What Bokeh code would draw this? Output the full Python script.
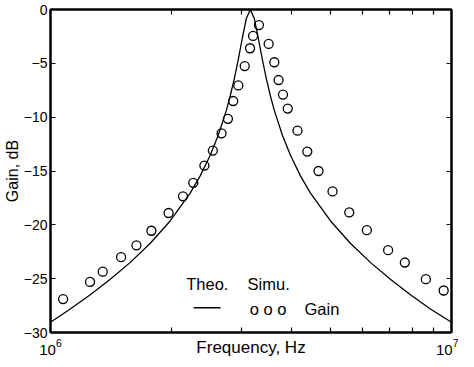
from bokeh.plotting import figure
from bokeh.models import (Range1d, FixedTicker, SingleIntervalTicker, LogAxis,
                          LinearAxis, Label, LogTickFormatter)
from bokeh.embed import file_html
from bokeh.resources import INLINE

# ---- data ----
theo_freq = [1.0e6, 1.118e6, 1.254e6, 1.407e6, 1.579e6, 1.771e6, 1.988e6, 2.230e6,
             2.362e6, 2.502e6, 2.620e6, 2.744e6, 2.807e6, 2.873e6, 2.940e6, 3.008e6,
             3.078e6, 3.15e6, 3.223e6, 3.298e6, 3.375e6, 3.454e6, 3.534e6, 3.617e6,
             3.787e6, 3.966e6, 4.201e6, 4.450e6, 4.993e6, 5.602e6, 6.286e6, 7.053e6,
             7.913e6, 8.879e6, 1.0e7]
theo_gain = [-29.05, -27.84, -26.51, -25.08, -23.51, -21.73, -19.64, -17.05,
             -15.45, -13.54, -11.68, -9.39, -8.01, -6.44, -4.64, -2.67,
             -0.84, 0.0, -0.84, -2.67, -4.64, -6.44, -8.01, -9.39,
             -11.68, -13.54, -15.45, -17.05, -19.64, -21.73, -23.51, -25.08,
             -26.51, -27.84, -29.05]

simu_freq = [1.075e6, 1.255e6, 1.35e6, 1.50e6, 1.638e6, 1.785e6, 1.97e6, 2.14e6,
             2.27e6, 2.42e6, 2.54e6, 2.67e6, 2.77e6, 2.855e6, 2.94e6, 3.05e6,
             3.145e6, 3.20e6, 3.31e6, 3.50e6, 3.615e6, 3.705e6, 3.80e6, 3.905e6,
             4.13e6, 4.37e6, 4.66e6, 5.05e6, 5.56e6, 6.15e6, 6.95e6, 7.65e6,
             8.63e6, 9.56e6]
simu_gain = [-26.9, -25.3, -24.35, -23.0, -21.9, -20.55, -18.9, -17.35,
             -16.1, -14.5, -13.1, -11.5, -10.15, -8.5, -7.05, -5.25,
             -3.6, -2.45, -1.45, -3.2, -4.9, -6.55, -7.9, -9.2,
             -11.25, -13.2, -15.0, -16.9, -18.85, -20.5, -22.35, -23.5,
             -25.05, -26.1]

x_major_ticks = [1e6, 1e7]
x_minor_ticks = [2e6, 3e6, 4e6, 5e6, 6e6, 7e6, 8e6, 9e6]

x_title = "Frequency, Hz"
y_title = "Gain, dB"
legend_head_theo = "Theo."
legend_head_simu = "Simu."
legend_marks = "o o o"
legend_name = "Gain"

# legend placement (data coordinates)
legend_pos = {
    "theo": (2.18e6, -25.5),
    "simu": (3.10e6, -25.5),
    "marks": (3.14e6, -27.8),
    "name": (4.30e6, -27.8),
    "line_x": [2.275e6, 2.655e6],
    "line_y": [-27.7, -27.7],
}

FONT = "Liberation Sans"

p = figure(width=458, height=359, x_axis_type="log",
           x_range=Range1d(1e6, 1e7), y_range=Range1d(-30, 0),
           output_backend="svg", toolbar_location=None,
           min_border_left=43, min_border_right=7, min_border_top=9,
           min_border_bottom=26)
p.xgrid.visible = False
p.ygrid.visible = False
p.outline_line_color = "black"
p.outline_line_width = 2
p.background_fill_color = "white"
p.border_fill_color = "white"

xticker = FixedTicker(ticks=x_major_ticks, minor_ticks=x_minor_ticks)
yticker = SingleIntervalTicker(interval=5, num_minor_ticks=0)

def style_axis(ax, labels=True):
    ax.axis_line_color = "black"
    ax.axis_line_width = 2
    ax.major_tick_in = 5
    ax.major_tick_out = 0
    ax.minor_tick_in = 5
    ax.minor_tick_out = 0
    ax.major_tick_line_width = 1.2
    ax.minor_tick_line_width = 1.2
    ax.major_label_text_font = FONT
    ax.major_label_text_color = "black"
    ax.axis_label_text_font = FONT
    ax.axis_label_text_font_style = "normal"
    ax.axis_label_text_color = "black"
    if not labels:
        ax.major_label_text_font_size = "1px"
        ax.major_label_text_color = None
        ax.major_label_standoff = 0
        ax.axis_label_standoff = 0

xb = p.xaxis[0]
xb.ticker = xticker
xb.formatter = LogTickFormatter()
style_axis(xb)
xb.major_label_text_font_size = "15px"
xb.major_label_standoff = 6
xb.axis_label = x_title
xb.axis_label_text_font_size = "17px"
xb.axis_label_standoff = -20

yl = p.yaxis[0]
yl.ticker = yticker
style_axis(yl)
yl.major_label_text_font_size = "14px"
yl.major_label_standoff = 3
yl.axis_label = y_title
yl.axis_label_text_font_size = "16px"
yl.axis_label_standoff = 0

xt = LogAxis(ticker=xticker)
style_axis(xt, labels=False)
p.add_layout(xt, "above")

yr = LinearAxis(ticker=yticker)
style_axis(yr, labels=False)
p.add_layout(yr, "right")

# data
p.line(theo_freq, theo_gain, line_color="black", line_width=1.3)
p.scatter(simu_freq, simu_gain, marker="circle", size=9, fill_color=None,
          line_color="black", line_width=1.3)

# legend
for key, txt in (("theo", legend_head_theo), ("simu", legend_head_simu),
                 ("marks", legend_marks), ("name", legend_name)):
    x, y = legend_pos[key]
    p.add_layout(Label(x=x, y=y, text=txt, text_font=FONT, text_font_size="16.5px",
                       text_baseline="alphabetic", text_align="left",
                       text_color="black"))
p.line(legend_pos["line_x"], legend_pos["line_y"], line_color="black", line_width=1.3)

open("out.html", "w").write(file_html(p, INLINE))
